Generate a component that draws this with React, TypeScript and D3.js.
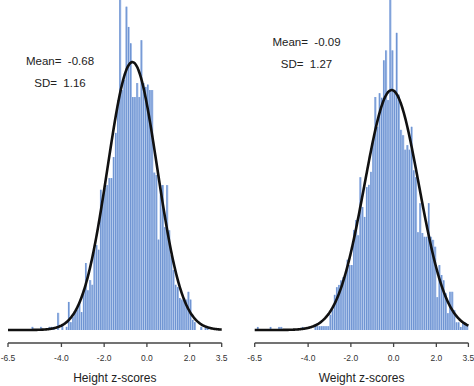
import React from "react";
import * as d3 from "d3";

// Histogram bins: start at -6.5, width 0.1, 100 bins (densities)
const binStart = -6.5;
const binWidth = 0.1;

const heightDensity = [
  0, 0, 0, 0, 0, 0, 0, 0, 0, 0,
  0, 0.004, 0, 0, 0, 0.004, 0, 0, 0, 0.004,
  0.004, 0.004, 0, 0.022, 0, 0.006, 0, 0.004, 0.036, 0.010,
  0.017, 0.022, 0.026, 0.035, 0.023, 0.051, 0.086, 0.051, 0.064, 0.058,
  0.103, 0.109, 0.103, 0.180, 0.173, 0.182, 0.186, 0.195, 0.195, 0.222,
  0.253, 0.295, 0.440, 0.308, 0.321, 0.415, 0.389, 0.368, 0.299, 0.299,
  0.317, 0.299, 0.372, 0.317, 0.312, 0.315, 0.308, 0.308, 0.202, 0.199,
  0.116, 0.186, 0.186, 0.132, 0.186, 0.128, 0.096, 0.077, 0.058, 0.055,
  0.041, 0.039, 0.041, 0.039, 0.049, 0.039, 0.013, 0.010, 0, 0,
  0.004, 0, 0.004, 0.004, 0, 0, 0, 0, 0, 0,
];

const weightDensity = [
  0, 0.004, 0, 0, 0, 0, 0, 0.004, 0, 0,
  0, 0.004, 0.004, 0, 0, 0, 0, 0, 0, 0,
  0, 0, 0.004, 0, 0, 0, 0, 0, 0.005, 0.005,
  0.005, 0.005, 0.005, 0.005, 0.005, 0.020, 0.026, 0.046, 0.056, 0.059,
  0.065, 0.069, 0.072, 0.092, 0.085, 0.085, 0.131, 0.144, 0.124, 0.200,
  0.161, 0.148, 0.187, 0.190, 0.207, 0.249, 0.305, 0.266, 0.310, 0.304,
  0.353, 0.366, 0.301, 0.450, 0.366, 0.314, 0.389, 0.308, 0.262, 0.255,
  0.236, 0.242, 0.236, 0.266, 0.209, 0.200, 0.128, 0.166, 0.127, 0.122,
  0.122, 0.166, 0.122, 0.118, 0.109, 0.043, 0.085, 0.072, 0.065, 0.048,
  0.022, 0.050, 0.050, 0.026, 0.010, 0.010, 0.004, 0.010, 0.010, 0.007,
];

const panelTitles = ["Height z-scores", "Weight z-scores"];
const means = [-0.68, -0.09];
const sds = [1.16, 1.27];
const meanLabels = ["-0.68", "-0.09"];
const sdLabels = ["1.16", "1.27"];
const tickValues = [-6.5, -4.0, -2.0, 0.0, 2.0, 3.5];
const tickLabels = ["-6.5", "-4.0", "-2.0", "0.0", "2.0", "3.5"];
const xDomain: [number, number] = [-6.5, 3.5];
const yMaxes = [0.4236, 0.432];

const FONT = "'Liberation Sans', Arial, Helvetica, sans-serif";
const BAR = "#6f94d2";
const BAR_LIGHT = "#a9c2ea";

function Panel({ idx, data, x0, x1, labelX, meanY }: { idx: number; data: number[]; x0: number; x1: number; labelX: number; meanY: number }) {
  const x = d3.scaleLinear().domain(xDomain).range([x0, x1]);
  const y = d3.scaleLinear().domain([0, yMaxes[idx]]).range([330, 0]);
  const mu = means[idx];
  const sd = sds[idx];
  const pts = d3.range(0, 401).map((k) => xDomain[0] + (k * (xDomain[1] - xDomain[0])) / 400);
  const line = d3
    .line<number>()
    .x((v) => x(v))
    .y((v) => y(Math.exp(-0.5 * ((v - mu) / sd) ** 2) / (sd * Math.sqrt(2 * Math.PI))))
    .curve(d3.curveBasis);
  const axisY = 343;
  return (
    <g>
      {data.map((d, i) => {
        if (d <= 0) return null;
        const bx = x(binStart + i * binWidth);
        const bw = x(binStart + (i + 1) * binWidth) - bx;
        const top = y(d);
        return (
          <g key={i}>
            <rect x={bx} y={top} width={bw} height={330 - top} fill={BAR_LIGHT} />
            <rect x={bx + 0.2} y={top} width={Math.max(0.5, bw - 1.0)} height={330 - top} fill={BAR} />
          </g>
        );
      })}
      <path d={line(pts) || ""} fill="none" stroke="#111" strokeWidth={2.6} />
      <line x1={x(xDomain[0])} x2={x(xDomain[1])} y1={axisY} y2={axisY} stroke="#444" strokeWidth={1.3} />
      {tickValues.map((t, i) => (
        <g key={i}>
          <line x1={x(t)} x2={x(t)} y1={axisY} y2={axisY + 4} stroke="#444" strokeWidth={1.3} />
          <text x={x(t)} y={360.5} textAnchor="middle" fontSize={8.5} fill="#333" fontFamily={FONT}>
            {tickLabels[i]}
          </text>
        </g>
      ))}
      <text x={(x0 + x1) / 2} y={382} textAnchor="middle" fontSize={12} fill="#222" fontFamily={FONT}>
        {panelTitles[idx]}
      </text>
      <text x={labelX} y={meanY} textAnchor="middle" fontSize={11.5} fill="#222" fontFamily={FONT} style={{ whiteSpace: "pre" }}>
        {"Mean=  " + meanLabels[idx]}
      </text>
      <text x={labelX} y={meanY + 22} textAnchor="middle" fontSize={11.5} fill="#222" fontFamily={FONT} style={{ whiteSpace: "pre" }}>
        {"SD=  " + sdLabels[idx]}
      </text>
    </g>
  );
}

export default function App() {
  return (
    <svg
      width={474}
      height={386}
      style={{ position: "absolute", left: 0, top: 0, background: "#fff" }}
    >
      <Panel idx={0} data={heightDensity} x0={8} x1={221.7} labelX={60} meanY={65} />
      <Panel idx={1} data={weightDensity} x0={254.7} x1={468.4} labelX={306.5} meanY={46} />
    </svg>
  );
}
